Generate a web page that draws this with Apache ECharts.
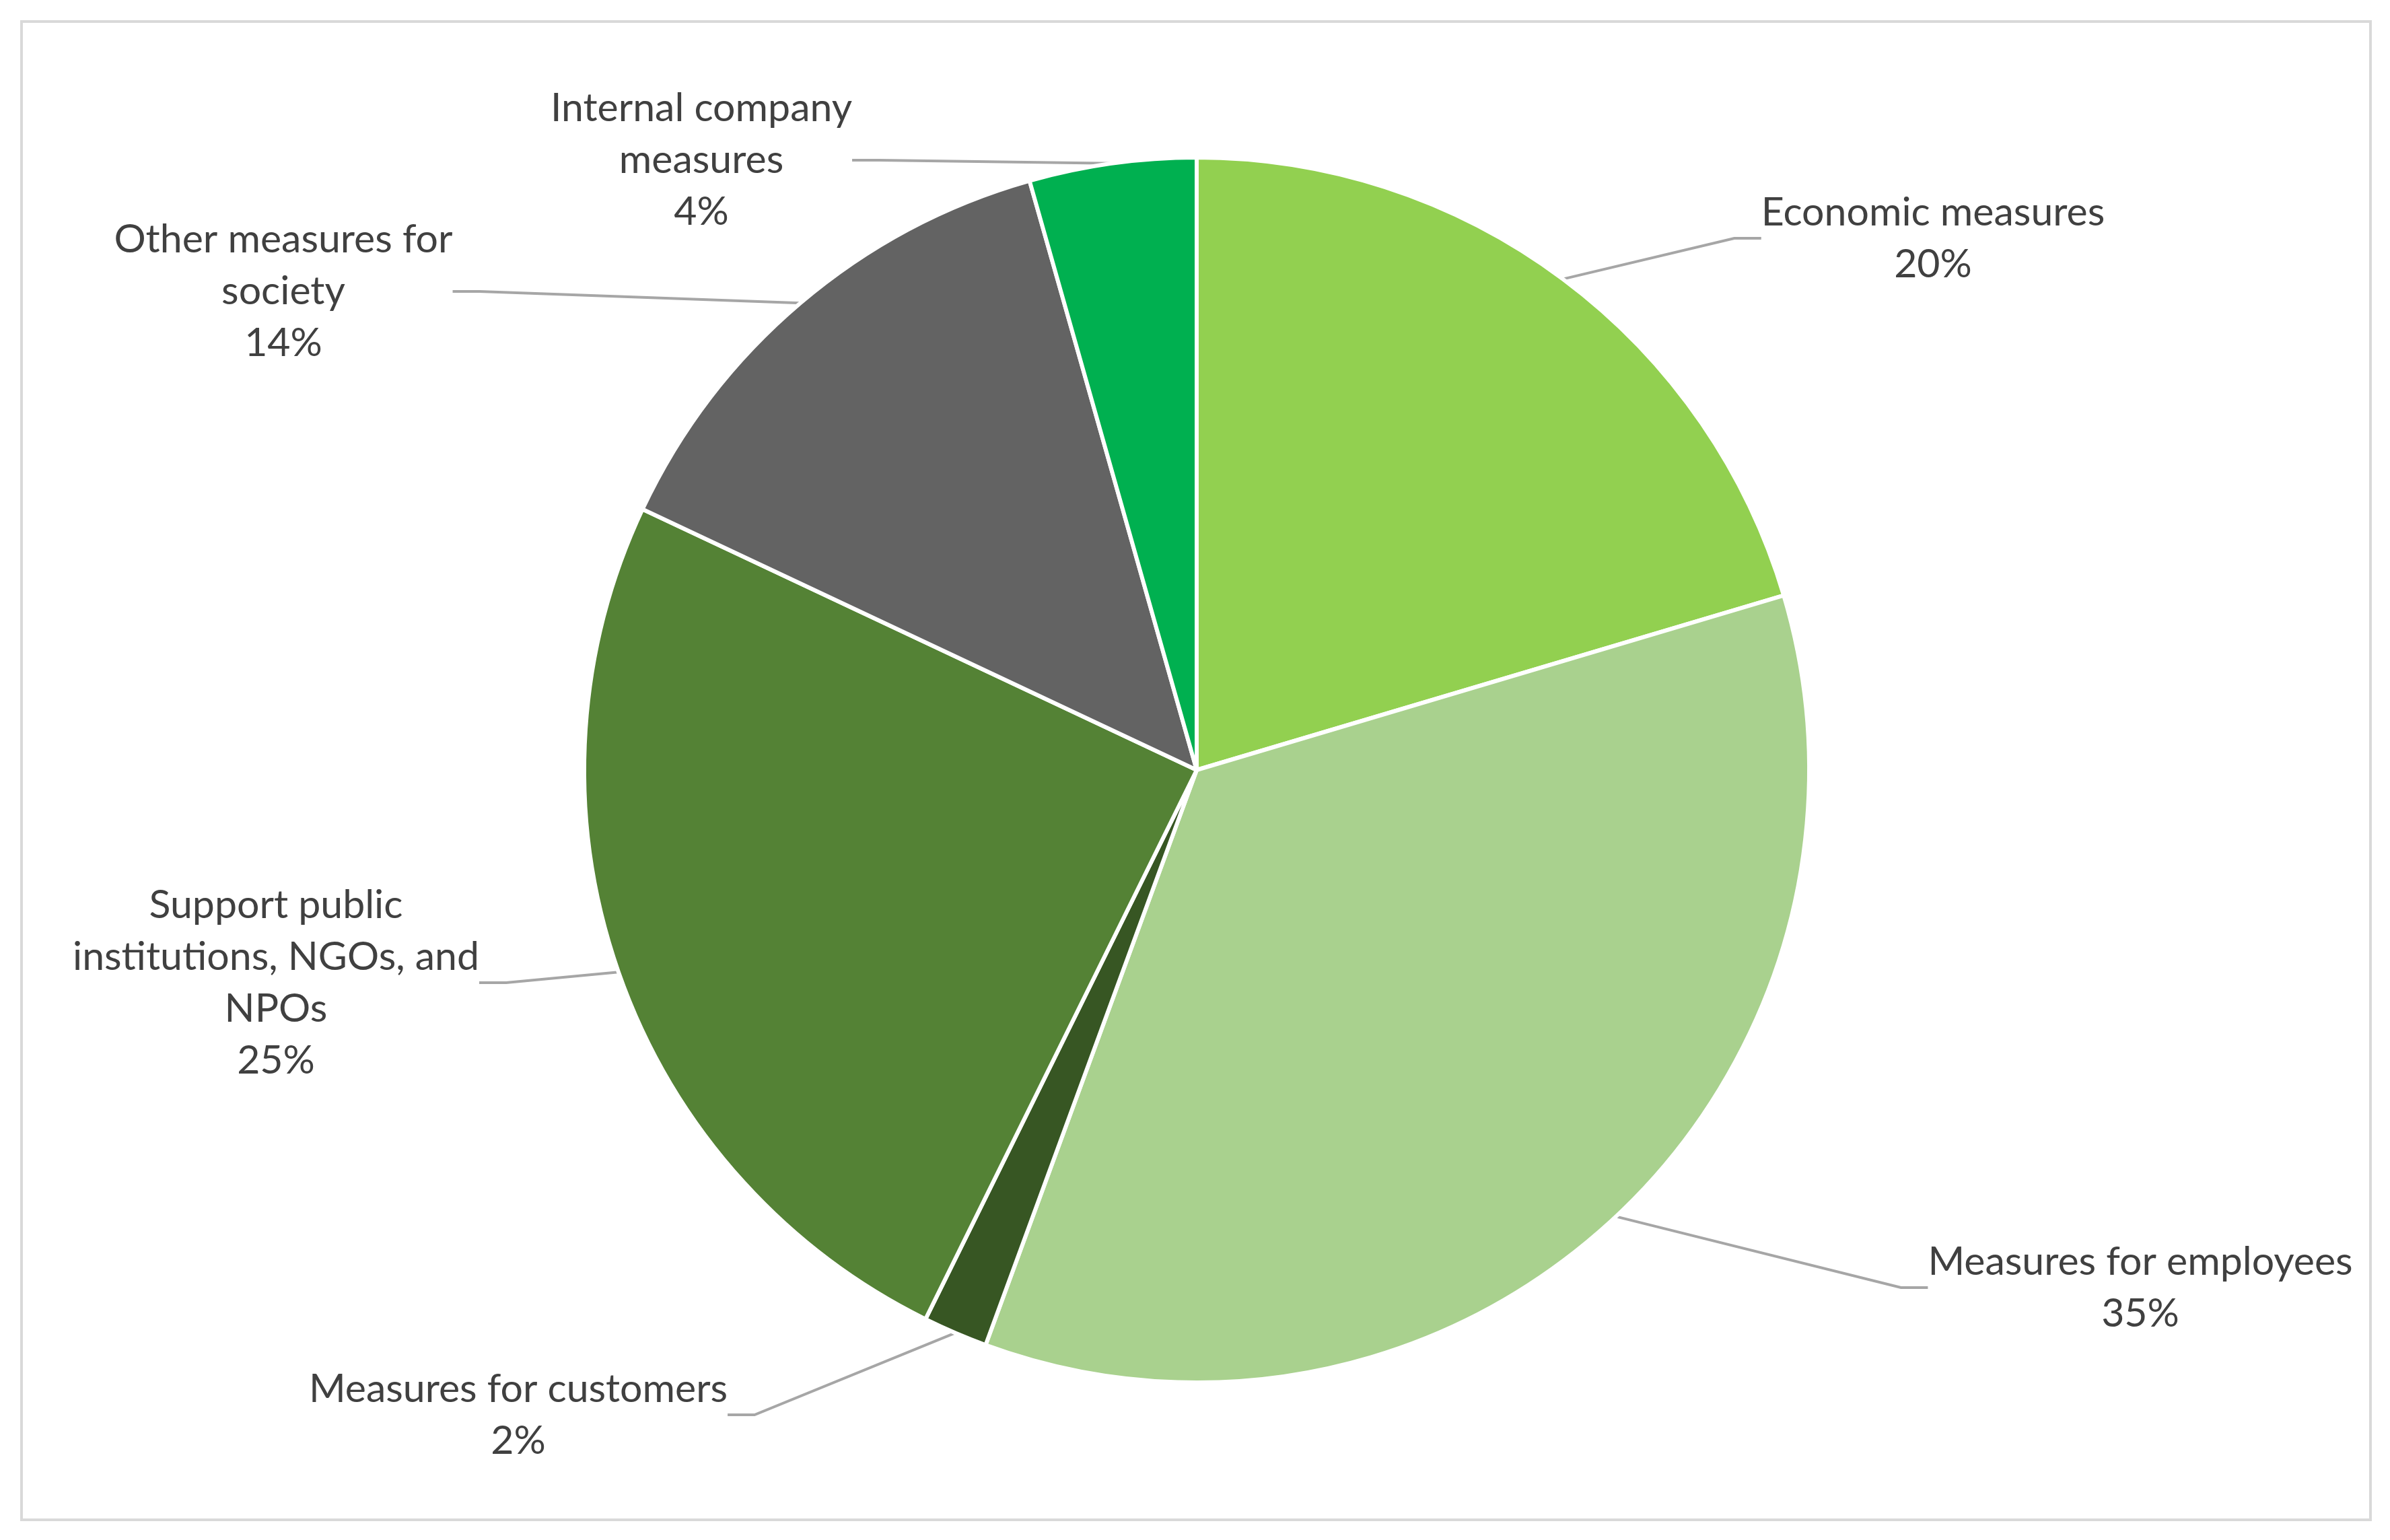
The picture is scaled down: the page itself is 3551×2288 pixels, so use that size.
<!DOCTYPE html>
<html>
<head>
<meta charset="utf-8">
<script src="https://cdn.jsdelivr.net/npm/echarts@6/dist/echarts.min.js"></script>
<style>
html,body{margin:0;padding:0;background:#fff;}
#chart{width:3551px;height:2288px;}
</style>
</head>
<body>
<div id="chart"></div>
<script>
const categories = [
  "Economic measures",
  "Measures for employees",
  "Measures for customers",
  "Support public institutions, NGOs, and NPOs",
  "Other measures for society",
  "Internal company measures"
];
const labelText = [
  "Economic measures",
  "Measures for employees",
  "Measures for customers",
  "Support public\ninstitutions, NGOs, and\nNPOs",
  "Other measures for\nsociety",
  "Internal company\nmeasures"
];
const values = [20.4, 35.2, 1.7, 24.7, 13.6, 4.4];
const colors = ["#92D050", "#A9D18E", "#375623", "#548235", "#636363", "#00B050"];
// label centre positions (px) in the 3551x2288 canvas
const labelPos = [
  [2872, 354],
  [3180, 1913],
  [770, 2102],
  [410, 1460],
  [421, 433],
  [1042, 238]
];

const chart = echarts.init(document.getElementById('chart'));
const option = {
  backgroundColor: '#ffffff',
  animation: false,
  graphic: [{
    type: 'rect',
    shape: { x: 32, y: 32, width: 3490, height: 2226 },
    style: { fill: 'none', stroke: '#d9d9d9', lineWidth: 4 },
    z: -1
  }],
  series: [{
    type: 'pie',
    center: [1778, 1144],
    radius: 910,
    startAngle: 90,
    clockwise: true,
    avoidLabelOverlap: false,
    itemStyle: { borderColor: '#ffffff', borderWidth: 6 },
    label: {
      show: true,
      position: 'outside',
      color: '#404040',
      fontFamily: 'Lato',
      fontSize: 59,
      lineHeight: 77,
      align: 'center',
      formatter: function (p) {
        return labelText[p.dataIndex] + '\n' + Math.round(p.percent) + '%';
      }
    },
    labelLine: {
      show: true,
      length: 60,
      length2: 40,
      lineStyle: { color: '#a6a6a6', width: 4 }
    },
    labelLayout: function (params) {
      const pos = labelPos[params.dataIndex];
      return { x: pos[0], y: pos[1], align: 'center', verticalAlign: 'middle' };
    },
    data: categories.map(function (c, i) {
      return { name: c, value: values[i], itemStyle: { color: colors[i] } };
    })
  }]
};
chart.setOption(option);
</script>
</body>
</html>
